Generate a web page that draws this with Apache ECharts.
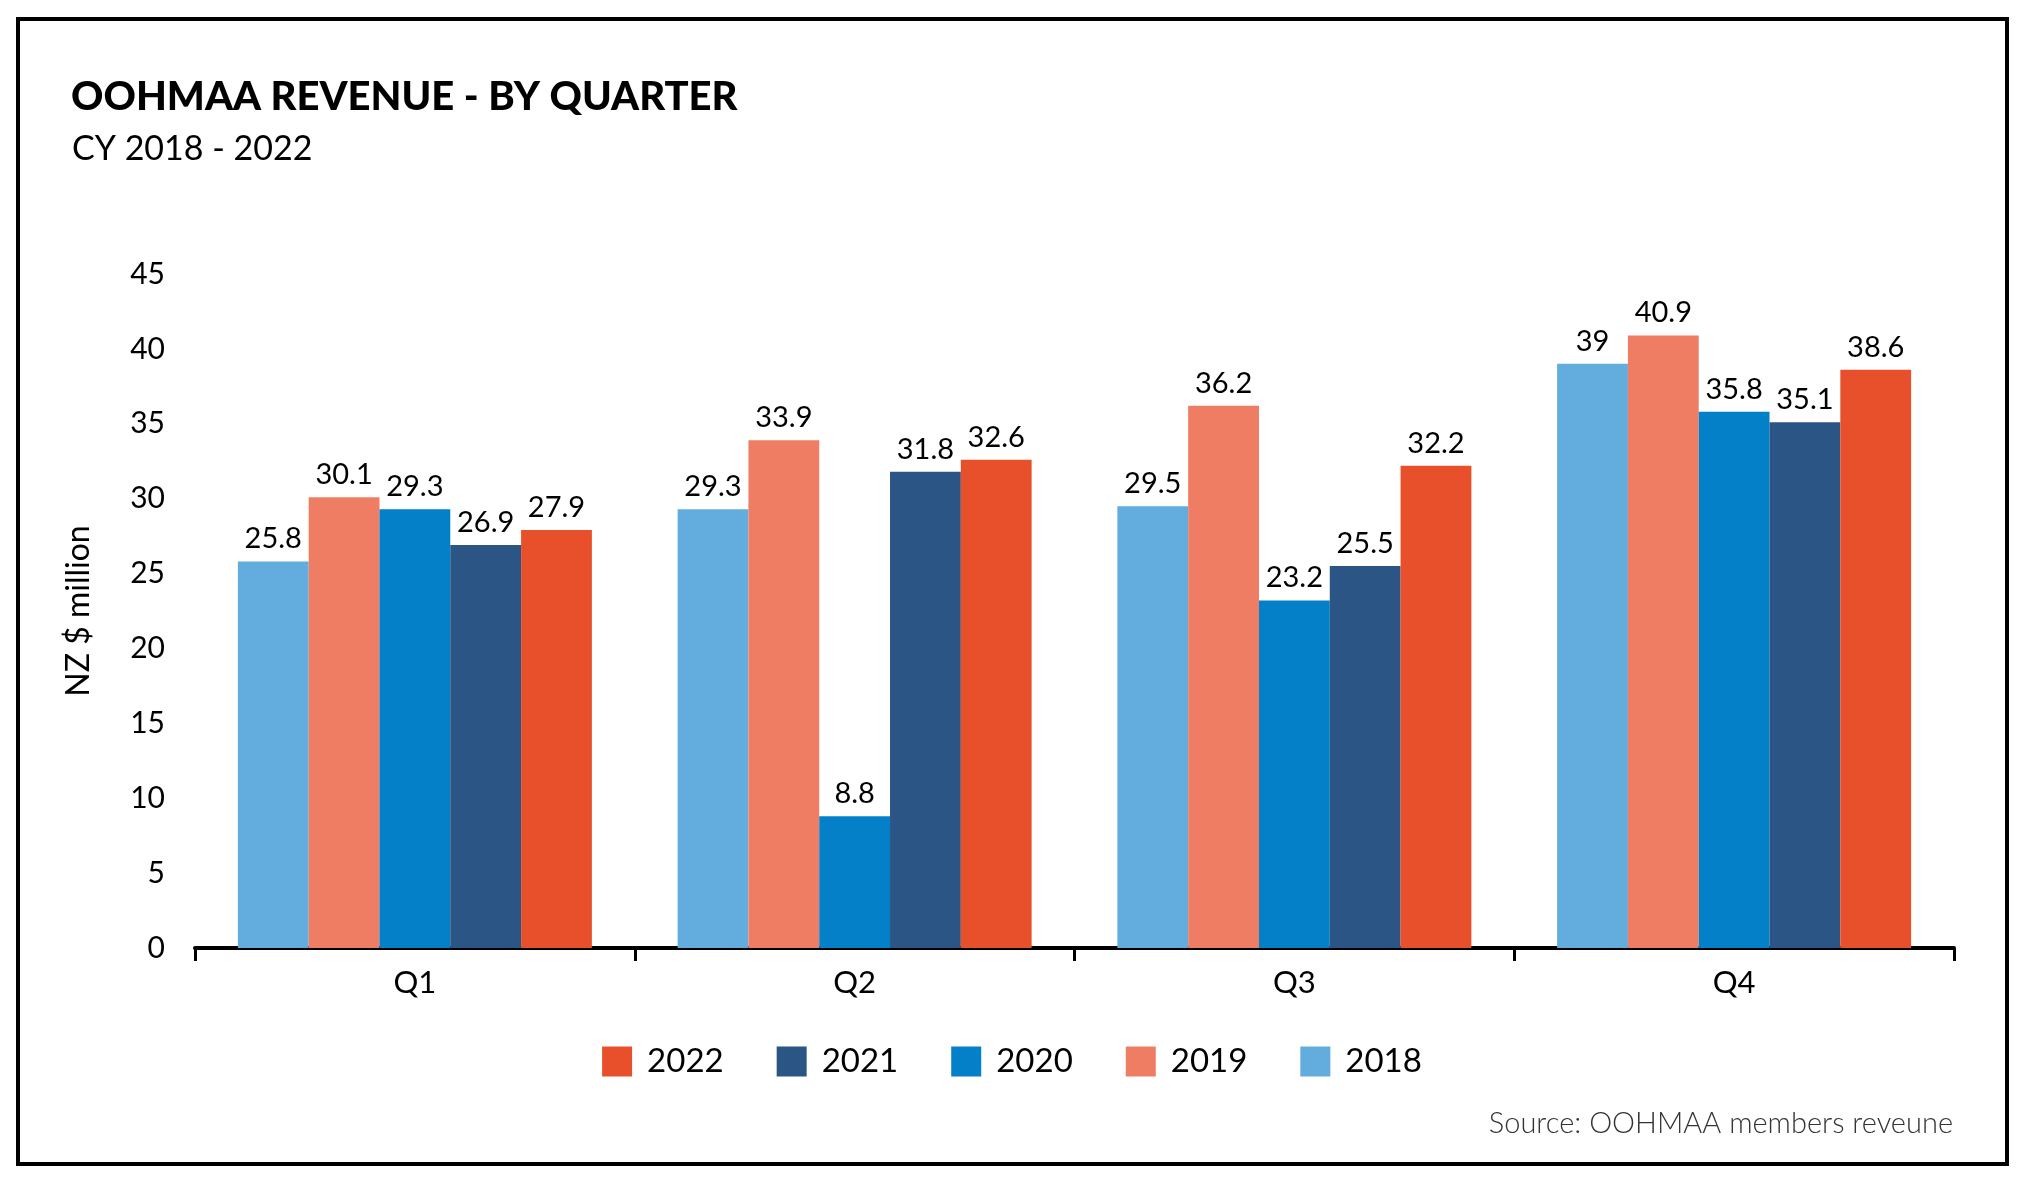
<!DOCTYPE html>
<html><head><meta charset="utf-8">
<script src="https://cdn.jsdelivr.net/npm/echarts@6/dist/echarts.min.js"></script>
<style>html,body{margin:0;padding:0;background:#fff}#c{width:2024px;height:1186px}</style>
</head><body><div id="c"></div>
<script>
const categories = ['Q1','Q2','Q3','Q4'];
const years = ['2018','2019','2020','2021','2022'];
const v2018 = [25.8, 29.3, 29.5, 39];
const v2019 = [30.1, 33.9, 36.2, 40.9];
const v2020 = [29.3, 8.8, 23.2, 35.8];
const v2021 = [26.9, 31.8, 25.5, 35.1];
const v2022 = [27.9, 32.6, 32.2, 38.6];
const seriesValues = [v2018, v2019, v2020, v2021, v2022];
const colors = ['#62ACDE','#EF7D64','#0380C7','#2B5585','#E8502B'];
const legendOrder = ['2022','2021','2020','2019','2018'];

const FONT = 'Lato';
const chart = echarts.init(document.getElementById('c'), null, {renderer:'canvas'});
chart.setOption({
  animation:false,
  textStyle:{fontFamily:FONT},
  title:[
    {text:'OOHMAA REVENUE - BY QUARTER', left:66, top:72,
     textStyle:{fontFamily:FONT, fontWeight:900, fontSize:40, color:'#000'}},
    {text:'CY 2018 - 2022', left:67, top:127,
     textStyle:{fontFamily:FONT, fontWeight:'normal', fontSize:34, color:'#000'}},
    {text:'Source: OOHMAA members reveune', right:66, top:1104,
     textStyle:{fontFamily:FONT, fontWeight:300, fontSize:29, color:'#333'}}
  ],
  graphic:[{type:'rect', shape:{x:18, y:19, width:1989, height:1145},
    style:{fill:'none', stroke:'#000', lineWidth:4}, silent:true}],
  legend:{
    data:legendOrder, top:1040, left:'center',
    itemWidth:30, itemHeight:30, itemGap:53, icon:'rect',
    textStyle:{fontFamily:FONT, fontSize:33, color:'#000', padding:[0,0,0,10]}
  },
  grid:{left:195, right:70, top:274, bottom:238, containLabel:false},
  xAxis:{
    type:'category', data:categories,
    axisLine:{lineStyle:{color:'#000', width:4}},
    axisTick:{show:true, length:13, lineStyle:{color:'#000', width:3}},
    axisLabel:{fontFamily:FONT, fontSize:31, color:'#000', margin:19},
    splitLine:{show:false}
  },
  yAxis:{
    type:'value', min:0, max:45, interval:5,
    name:'NZ $ million', nameLocation:'middle', nameGap:100, nameRotate:90,
    nameTextStyle:{fontFamily:FONT, fontSize:32, color:'#000'},
    axisLine:{show:false}, axisTick:{show:false}, splitLine:{show:false},
    axisLabel:{fontFamily:FONT, fontSize:30, color:'#000', margin:30}
  },
  series: years.map((y,i)=>({
    name:y, type:'bar', data:seriesValues[i],
    barGap:'0%', barCategoryGap:'19.5%',
    itemStyle:{color:colors[i]},
    label:{show:true, position:'top', distance:8, fontFamily:FONT, fontSize:29, color:'#000'}
  }))
});
</script></body></html>
